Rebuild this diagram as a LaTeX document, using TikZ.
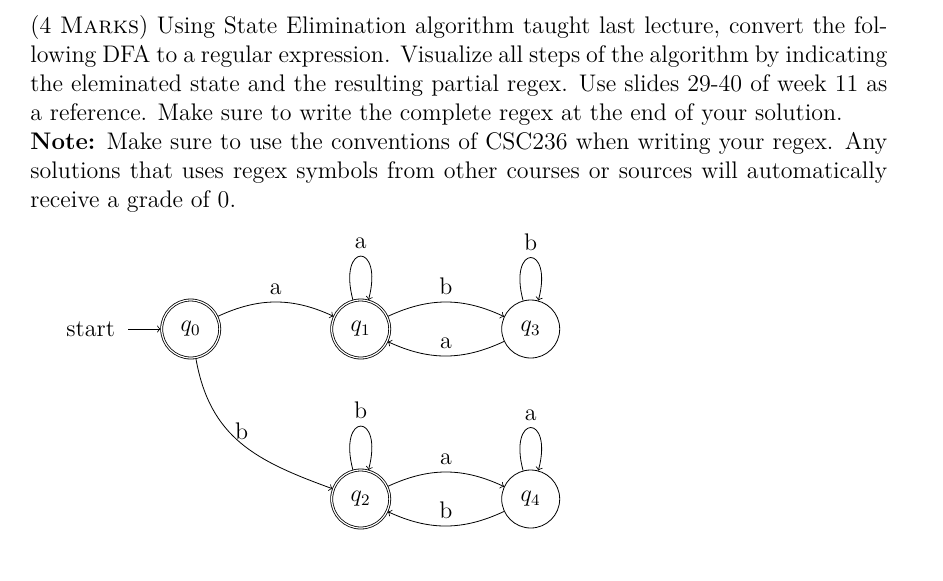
\documentclass[tikz,border=0pt]{standalone}
\usetikzlibrary{automata,positioning,arrows}
\begin{document}
\begin{tikzpicture}[x=0.5pt,y=-0.5pt,>=to,
  every state/.style={draw,circle,minimum size=29pt,inner sep=0pt,font=\fontsize{12}{14}\selectfont},
  lbl/.style={font=\fontsize{12}{14}\selectfont},
  every edge/.style={draw,->,thin},
  every loop/.style={looseness=10,min distance=16pt}]
\useasboundingbox (0,0) rectangle (943,580);
\node[anchor=north west,inner sep=0pt,text width=428.5pt,align=justify,font=\fontsize{12}{14.5}\selectfont] (txt) at (30,15)
{(4 \textsc{Marks}) Using State Elimination algorithm taught last lecture, convert the following DFA to a regular expression. Visualize all steps of the algorithm by indicating the eleminated state and the resulting partial regex. Use slides 29-40 of week 11 as a reference. Make sure to write the complete regex at the end of your solution.\\
\textbf{Note:} Make sure to use the conventions of CSC236 when writing your regex. Any solutions that uses regex symbols from other courses or sources will automatically receive a grade of 0.};
\node[state,accepting] (q0) at (190.7,329) {$q_0$};
\node[state,accepting] (q1) at (360.7,329) {$q_1$};
\node[state] (q3) at (530.7,329) {$q_3$};
\node[state,accepting] (q2) at (360.7,499) {$q_2$};
\node[state] (q4) at (530.7,499) {$q_4$};
\node[lbl,anchor=east] (st) at (122,329) {start};
\draw[->] (st.east) ++(3pt,0) coordinate (s1) (s1) -- (q0);
\path (q0) edge[bend left=25] node[lbl,above] {a} (q1)
      (q1) edge[loop above] node[lbl,above] {a} ()
      (q1) edge[bend left=25] node[lbl,above] {b} (q3)
      (q3) edge[bend left=25] node[lbl,above] {a} (q1)
      (q3) edge[loop above] node[lbl,above] {b} ()
      (q0) edge[out=-80,in=160,looseness=1.1] node[lbl,right,pos=0.4] {b} (q2)
      (q2) edge[loop above] node[lbl,above] {b} ()
      (q2) edge[bend left=25] node[lbl,above] {a} (q4)
      (q4) edge[bend left=25] node[lbl,above] {b} (q2)
      (q4) edge[loop above] node[lbl,above] {a} ();
\end{tikzpicture}
\end{document}
